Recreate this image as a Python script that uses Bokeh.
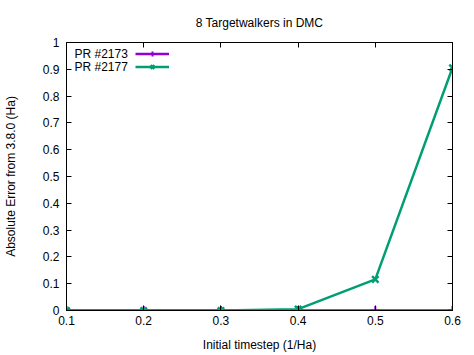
from bokeh.plotting import figure
from bokeh.models import (Range1d, LinearAxis, FixedTicker, CustomJSTickFormatter,
                          Legend, LegendItem, Label)
from bokeh.embed import file_html
from bokeh.resources import INLINE

# ---- data ----
timesteps = [0.1, 0.2, 0.3, 0.4, 0.5, 0.6]
err_pr2173 = [0.0, 0.0, 0.0, 0.0, 0.0, 0.0]
err_pr2177 = [0.0, 0.0, 0.0, 0.005, 0.116, 0.906]
series_names = ["PR #2173", "PR #2177"]
x_ticks = [0.1, 0.2, 0.3, 0.4, 0.5, 0.6]
y_ticks = [0.0, 0.1, 0.2, 0.3, 0.4, 0.5, 0.6, 0.7, 0.8, 0.9, 1.0]

FONT = "Liberation Sans"
PURPLE = "#9400d3"
GREEN = "#009e73"

p = figure(width=474, height=355, output_backend="svg", toolbar_location=None,
           x_range=Range1d(0.1, 0.6), y_range=Range1d(0, 1),
           min_border_left=62, min_border_right=22, min_border_top=42, min_border_bottom=45,
           x_axis_label="Initial timestep (1/Ha)",
           y_axis_label="Absolute Error from 3.8.0 (Ha)")
p.title.text = "8 Targetwalkers in DMC"
p.title.align = "center"
p.title.vertical_align = "top"
p.title.text_font = FONT
p.title.text_font_size = "12px"
p.title.text_font_style = "normal"
p.title.text_color = "#000000"
p.title.standoff = 22

p.xgrid.visible = False
p.ygrid.visible = False
p.outline_line_color = "#000000"
p.outline_line_width = 1
p.background_fill_color = "white"
p.border_fill_color = "white"

fmt = CustomJSTickFormatter(code="return String(Math.round(tick*10)/10);")
blank = CustomJSTickFormatter(code="return '';")

def style_axis(ax, ticks, show_labels):
    ax.ticker = FixedTicker(ticks=ticks)
    ax.major_tick_in = 5
    ax.major_tick_out = 0
    ax.minor_tick_line_color = None
    ax.axis_line_color = "#000000"
    ax.major_tick_line_color = "#000000"
    ax.major_label_text_font = FONT
    ax.major_label_text_color = "#000000"
    ax.major_label_text_font_size = "12px"
    ax.axis_label_text_font = FONT
    ax.axis_label_text_font_size = "12px"
    ax.axis_label_text_font_style = "normal"
    ax.axis_label_text_color = "#000000"
    if show_labels:
        ax.formatter = fmt
    else:
        ax.formatter = blank
        ax.major_label_standoff = 0

style_axis(p.xaxis[0], x_ticks, True)
style_axis(p.yaxis[0], y_ticks, True)
p.xaxis[0].major_label_standoff = 5
p.xaxis[0].axis_label_standoff = 10
p.yaxis[0].major_label_standoff = 7
p.yaxis[0].axis_label_standoff = 22

top = LinearAxis()
style_axis(top, x_ticks, False)
p.add_layout(top, "above")
right = LinearAxis()
style_axis(right, y_ticks, False)
p.add_layout(right, "right")

l1 = p.line(timesteps, err_pr2173, line_color=PURPLE, line_width=2.5)
s1 = p.scatter(timesteps, err_pr2173, marker="cross", size=9, line_color=PURPLE, line_width=2)
l2 = p.line(timesteps, err_pr2177, line_color=GREEN, line_width=2.5)
s2 = p.scatter(timesteps, err_pr2177, marker="x", size=9, line_color=GREEN, line_width=2.5)

legend = Legend(items=[LegendItem(label="", renderers=[l1, s1]),
                       LegendItem(label="", renderers=[l2, s2])],
                location=(69, 237), glyph_width=34, glyph_height=13, label_height=13,
                label_width=0, label_standoff=0, spacing=0, padding=0, margin=0,
                border_line_color=None, background_fill_alpha=0)
p.add_layout(legend)

for i, name in enumerate(series_names):
    p.add_layout(Label(x=8, y=257 - 13 * i, x_units="screen", y_units="screen",
                       text=name, text_font=FONT, text_font_size="12px",
                       text_color="#000000", text_baseline="middle", text_align="left"))

open("out.html", "w").write(file_html(p, INLINE))
